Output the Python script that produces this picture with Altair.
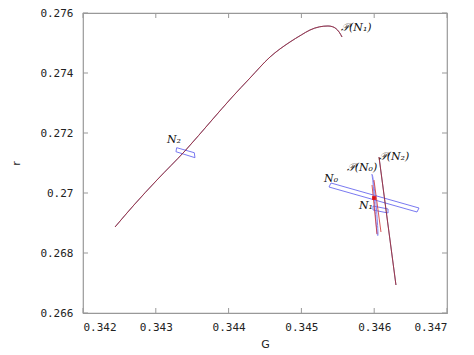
import altair as alt
import pandas as pd

# Main trajectory curve (G, r)
curve_G = [0.342440, 0.342700, 0.343016, 0.343400, 0.343772, 0.344050, 0.344294, 0.344569,
           0.344843, 0.345000, 0.345118, 0.345250, 0.345365, 0.345425, 0.345475, 0.345520, 0.345558]
curve_r = [0.268867, 0.269600, 0.270433, 0.271400, 0.272433, 0.273200, 0.273833, 0.274533,
           0.275033, 0.275270, 0.275433, 0.275540, 0.275567, 0.275545, 0.275480, 0.275360, 0.275200]

# P(N2) image segment
pn2_G = [0.346066, 0.346299]
pn2_r = [0.271200, 0.266933]

# P(N0) thin blue loop
pn0_loop_G = [0.345970, 0.345985, 0.346010, 0.346038, 0.346052, 0.346030, 0.345995, 0.345978, 0.345970]
pn0_loop_r = [0.270600, 0.270300, 0.269500, 0.268700, 0.268667, 0.269500, 0.270300, 0.270567, 0.270600]
# P(N0) red strands
pn0a_G = [0.345970, 0.346038]
pn0a_r = [0.270267, 0.268633]
pn0b_G = [0.345997, 0.346093]
pn0b_r = [0.270433, 0.268700]

# Boxes N0, N1, N2 (closed outlines)
n0_G = [0.345407, 0.346615, 0.346588, 0.345379, 0.345407]
n0_r = [0.270333, 0.269500, 0.269367, 0.270200, 0.270333]
n1_G = [0.345984, 0.346190, 0.346190, 0.345984, 0.345984]
n1_r = [0.269567, 0.269467, 0.269333, 0.269433, 0.269567]
n2_G = [0.343287, 0.343529, 0.343538, 0.343277, 0.343287]
n2_r = [0.271510, 0.271343, 0.271177, 0.271377, 0.271510]

# Fixed point marker
dot_G = [0.345997]
dot_r = [0.269833]

# Labels
lab_text = ["𝒫(N₁)", "N₂", "N₀", "𝒫(N₀)", "𝒫(N₂)", "N₁"]
lab_G = [0.345544, 0.343250, 0.345407, 0.345832, 0.346272, 0.345887]
lab_r = [0.275500, 0.271767, 0.270467, 0.270833, 0.271200, 0.269567]
lab_align = ["left", "center", "center", "center", "center", "center"]

x_ticks = [0.342, 0.343, 0.344, 0.345, 0.346, 0.347]
y_ticks = [0.266, 0.268, 0.270, 0.272, 0.274, 0.276]

W, H = 364, 300
xs = alt.Scale(domain=[0.342, 0.347], nice=False, zero=False)
ys = alt.Scale(domain=[0.266, 0.276], nice=False, zero=False)

def line_df(G, r, name):
    return pd.DataFrame({"G": G, "r": r, "id": name, "o": list(range(len(G)))})

curve_df = line_df(curve_G, curve_r, "curve")
pn2_df = line_df(pn2_G, pn2_r, "pn2")
red_df = pd.concat([line_df(pn0a_G, pn0a_r, "a"), line_df(pn0b_G, pn0b_r, "b")])
blue_df = pd.concat([line_df(n0_G, n0_r, "n0"), line_df(n1_G, n1_r, "n1"),
                     line_df(n2_G, n2_r, "n2")])
loop_df = line_df(pn0_loop_G, pn0_loop_r, "loop")

X = alt.X("G:Q", scale=xs, title="G",
          axis=alt.Axis(values=x_ticks, tickSize=0, labelPadding=8, domain=False,
                        grid=False, format=".3f", labelFont="DejaVu Sans Mono", labelFontSize=11,
                        labelColor="#222", titleFont="DejaVu Sans", titleFontSize=11,
                        titleFontWeight="normal", titlePadding=6, titleColor="#222"))
Y = alt.Y("r:Q", scale=ys, title="r",
          axis=alt.Axis(values=y_ticks, tickSize=0, labelPadding=10, domain=False,
                        grid=False, format="~f", labelFont="DejaVu Sans Mono",
                        labelFontSize=11, labelColor="#222", titleFont="DejaVu Sans",
                        titleFontSize=11, titleFontWeight="normal", titlePadding=18,
                        titleColor="#222"))

def lines(df, color, width, opacity=1.0, interp="linear"):
    return alt.Chart(df).mark_line(color=color, strokeWidth=width, opacity=opacity,
                                   interpolate=interp).encode(
        x=X, y=Y, detail="id:N", order="o:Q")

blue = lines(blue_df, "#6a6aee", 0.9)
loop = lines(loop_df, "#7a7aee", 0.9, interp="cardinal-closed")
curve_dark = lines(curve_df, "#3a2a66", 0.9, interp="monotone")
curve_red = lines(curve_df, "#d03030", 0.7, 0.85, interp="monotone")
pn2_dark = lines(pn2_df, "#3a2a66", 0.9)
pn2_red = lines(pn2_df, "#d03030", 0.7, 0.85)
red = lines(red_df, "#d03030", 0.8)

dot = alt.Chart(pd.DataFrame({"G": dot_G, "r": dot_r})).mark_square(
    color="#dd1111", size=14, opacity=1).encode(x=X, y=Y)

lab_df = pd.DataFrame({"G": lab_G, "r": lab_r, "t": lab_text, "a": lab_align})
labels_left = alt.Chart(lab_df[lab_df.a == "left"]).mark_text(
    align="left", baseline="middle", font="DejaVu Serif", fontStyle="italic",
    fontSize=11, color="#111").encode(x=X, y=Y, text="t:N")
labels_c = alt.Chart(lab_df[lab_df.a == "center"]).mark_text(
    align="center", baseline="middle", font="DejaVu Serif", fontStyle="italic",
    fontSize=11, color="#111").encode(x=X, y=Y, text="t:N")

xt = pd.DataFrame({"G": x_ticks})
yt = pd.DataFrame({"r": y_ticks})
tick_col = "#999999"
xb = alt.Chart(xt).mark_rule(color=tick_col).encode(
    x=alt.X("G:Q", scale=xs), y=alt.value(H), y2=alt.value(H - 5))
xtop = alt.Chart(xt).mark_rule(color=tick_col).encode(
    x=alt.X("G:Q", scale=xs), y=alt.value(0), y2=alt.value(5))
yl = alt.Chart(yt).mark_rule(color=tick_col).encode(
    y=alt.Y("r:Q", scale=ys), x=alt.value(0), x2=alt.value(5))
yr = alt.Chart(yt).mark_rule(color=tick_col).encode(
    y=alt.Y("r:Q", scale=ys), x=alt.value(W), x2=alt.value(W - 5))

chart = alt.layer(blue, loop, curve_dark, curve_red, pn2_dark, pn2_red, red, dot,
                  labels_left, labels_c, xb, xtop, yl, yr).properties(
    width=W, height=H,
    autosize=alt.AutoSizeParams(type="none"),
    padding={"left": 83, "top": 13, "right": 27, "bottom": 42},
    background="white",
).configure_view(stroke="#999999", strokeWidth=1.2)

chart.save("out.html", embed_options={"renderer": "svg", "actions": False})
